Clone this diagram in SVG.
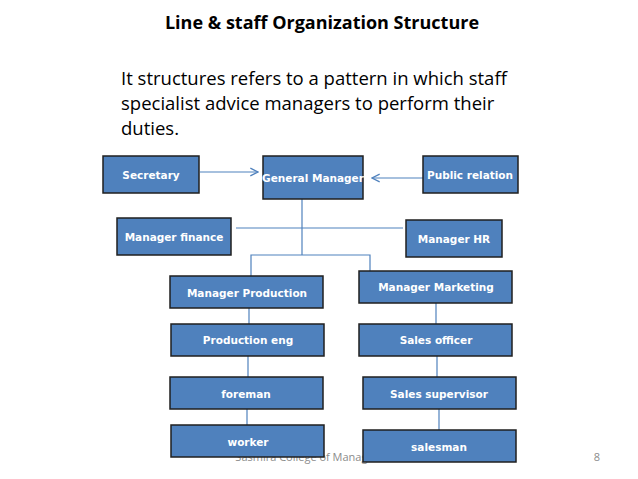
<svg xmlns="http://www.w3.org/2000/svg" width="638" height="479" viewBox="0 0 638 479">
<style>
.b{fill:#4f81bd;stroke:#1f1f1f;stroke-width:1.5}
.t{font-family:"DejaVu Sans",Verdana,sans-serif;font-weight:bold;font-size:10.5px;fill:#fff;text-anchor:middle}
.c{stroke:#4f81bd;stroke-width:1.2;fill:none}
</style>
<defs><marker id="a" viewBox="0 0 10 10" refX="9" refY="5" markerWidth="8" markerHeight="8" orient="auto"><path d="M1,1 L9,5 L1,9" fill="none" stroke="#4f81bd" stroke-width="1.3"/></marker></defs>
<rect width="638" height="479" fill="#fff"/>
<text x="322" y="29" font-family="'Open Sans','Liberation Sans',sans-serif" font-weight="bold" font-size="18" text-anchor="middle">Line &amp; staff Organization Structure</text>
<g font-family="'Open Sans','Liberation Sans',sans-serif" font-size="18.5" fill="#000">
<text x="121" y="85">It structures refers to a pattern in which staff</text>
<text x="121" y="110">specialist advice managers to perform their</text>
<text x="121" y="135">duties.</text>
</g>
<text x="318" y="461" font-family="'Open Sans','Liberation Sans',sans-serif" font-size="11" fill="#8c8c8c" text-anchor="middle">Sasmira College of Management</text>
<text x="597" y="461" font-family="'Open Sans','Liberation Sans',sans-serif" font-size="11" fill="#8c8c8c" text-anchor="middle">8</text>
<g id="connectors">
<line class="c" x1="200" y1="172" x2="258" y2="172" marker-end="url(#a)"/>
<line class="c" x1="423" y1="178" x2="372" y2="178" marker-end="url(#a)"/>
<line class="c" x1="302" y1="199" x2="302" y2="255"/>
<line class="c" x1="236" y1="228" x2="403" y2="228"/>
<polyline class="c" points="251,276 251,255 370,255 370,271"/>
<line class="c" x1="249" y1="308" x2="249" y2="324"/>
<line class="c" x1="248" y1="356" x2="248" y2="377"/>
<line class="c" x1="247" y1="409" x2="247" y2="425"/>
<line class="c" x1="436" y1="303" x2="436" y2="324"/>
<line class="c" x1="437" y1="356" x2="437" y2="377"/>
<line class="c" x1="439" y1="409" x2="439" y2="430"/>
</g>
<g id="secretary"><rect class="b" x="103" y="156" width="96" height="37"/><text class="t" x="151" y="179">Secretary</text></g>
<g id="gm"><rect class="b" x="263" y="156" width="100" height="43"/><text class="t" x="313" y="182">General Manager</text></g>
<g id="pr"><rect class="b" x="423" y="156" width="95" height="37"/><text class="t" x="470" y="179">Public relation</text></g>
<g id="finance"><rect class="b" x="117" y="218" width="114" height="37"/><text class="t" x="174" y="241">Manager finance</text></g>
<g id="hr"><rect class="b" x="406" y="220" width="96" height="37"/><text class="t" x="454" y="243">Manager HR</text></g>
<g id="mprod"><rect class="b" x="170" y="276" width="153" height="32"/><text class="t" x="247" y="297">Manager Production</text></g>
<g id="mmkt"><rect class="b" x="359" y="271" width="153" height="32"/><text class="t" x="436" y="291">Manager Marketing</text></g>
<g id="peng"><rect class="b" x="171" y="324" width="153" height="32"/><text class="t" x="248" y="344">Production eng</text></g>
<g id="sofficer"><rect class="b" x="359" y="324" width="153" height="32"/><text class="t" x="436" y="344">Sales officer</text></g>
<g id="foreman"><rect class="b" x="170" y="377" width="153" height="32"/><text class="t" x="246" y="398">foreman</text></g>
<g id="ssup"><rect class="b" x="363" y="377" width="153" height="32"/><text class="t" x="439" y="398">Sales supervisor</text></g>
<g id="worker"><rect class="b" x="171" y="425" width="153" height="32"/><text class="t" x="248" y="446">worker</text></g>
<g id="salesman"><rect class="b" x="363" y="430" width="153" height="32"/><text class="t" x="439" y="451">salesman</text></g>
</svg>
